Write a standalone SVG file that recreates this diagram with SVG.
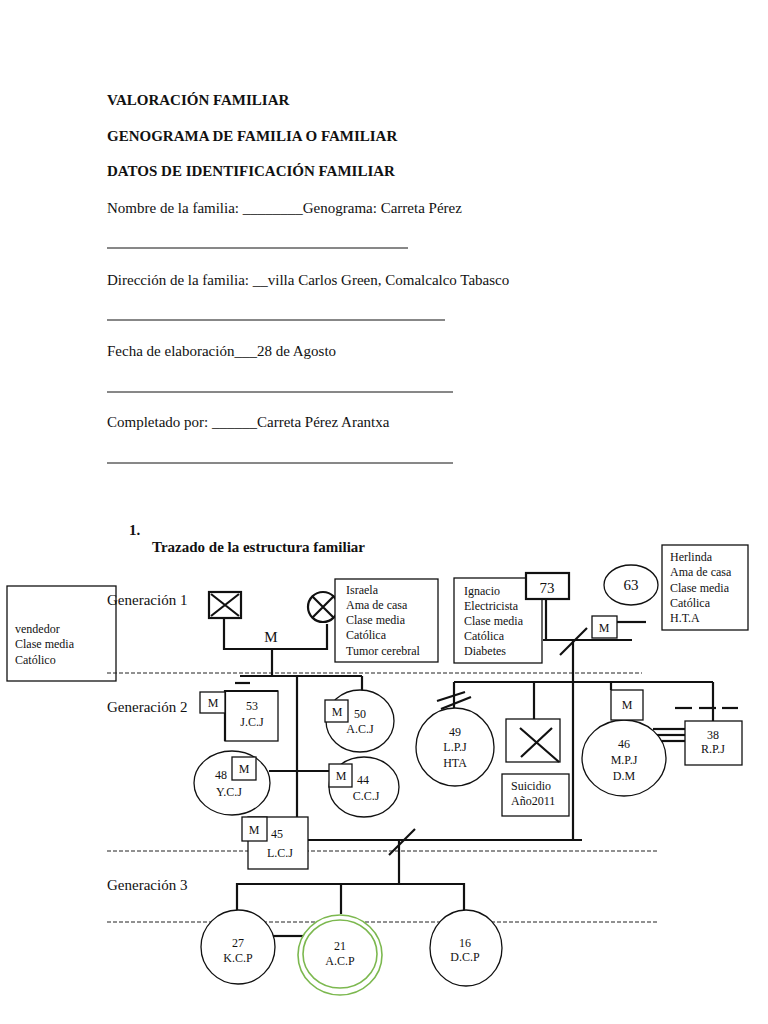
<svg xmlns="http://www.w3.org/2000/svg" width="768" height="1024" viewBox="0 0 768 1024">
<style>
text{font-family:"Liberation Serif","Times New Roman",serif;fill:#111}
.h{font-size:15px;font-weight:bold}
.t{font-size:15px}
.s{font-size:12px}
.c{text-anchor:middle}
.n{fill:#fff;stroke:#111;stroke-width:1.3}
.k{fill:#fff;stroke:#111;stroke-width:2.2}
.ln{stroke:#111;stroke-width:2.2;fill:none}
.ul{stroke:#111;stroke-width:1}
.dash{stroke:#222;stroke-width:1;stroke-dasharray:4,2}
</style>
<rect width="768" height="1024" fill="#fff"/>
<g id="vendedor">
<rect x="7" y="586" width="109" height="95" fill="none" stroke="#111" stroke-width="1.3"/>
<text class="s" x="15" y="633">vendedor</text>
<text class="s" x="15" y="648">Clase media</text>
<text class="s" x="15" y="664">Católico</text>
</g>
<g id="header">
<text class="h" x="107" y="105">VALORACIÓN FAMILIAR</text>
<text class="h" x="107" y="141">GENOGRAMA DE FAMILIA O FAMILIAR</text>
<text class="h" x="107" y="176">DATOS DE IDENTIFICACIÓN FAMILIAR</text>
<text class="t" x="107" y="213">Nombre de la familia: ________Genograma: Carreta Pérez</text>
<line class="ul" x1="107" y1="248" x2="408" y2="248"/>
<text class="t" x="107" y="285">Dirección de la familia: __villa Carlos Green, Comalcalco Tabasco</text>
<line class="ul" x1="107" y1="320" x2="445" y2="320"/>
<text class="t" x="107" y="356">Fecha de elaboración___28 de Agosto</text>
<line class="ul" x1="107" y1="392" x2="453" y2="392"/>
<text class="t" x="107" y="427">Completado por: ______Carreta Pérez Arantxa</text>
<line class="ul" x1="107" y1="463" x2="453" y2="463"/>
<text class="h" x="129" y="535">1.</text>
<text class="h" x="152" y="552">Trazado de la estructura familiar</text>
<text class="t" x="107" y="605">Generación 1</text>
<text class="t" x="107" y="712">Generación 2</text>
<text class="t" x="107" y="890">Generación 3</text>
<line class="dash" x1="107" y1="673" x2="642" y2="673"/>
<line class="dash" x1="107" y1="851" x2="657" y2="851"/>
<line class="dash" x1="107" y1="922" x2="657" y2="922"/>
</g>
<g id="connectors">
<polyline class="ln" points="224,618 224,649 327,649 327,624"/>
<line class="ln" x1="272" y1="649" x2="272" y2="676"/>
<line class="ln" x1="240" y1="676" x2="362" y2="676"/>
<line class="ln" x1="235" y1="683" x2="250" y2="683"/>
<line class="ln" x1="297" y1="676" x2="297" y2="817"/>
<line class="ln" x1="362" y1="676" x2="362" y2="691"/>
<line class="ln" x1="269" y1="771" x2="330" y2="771"/>
<line class="ln" x1="308" y1="840" x2="582" y2="840"/>
<line class="ln" x1="389" y1="855" x2="415" y2="829"/>
<line class="ln" x1="399" y1="840" x2="399" y2="884"/>
<polyline class="ln" points="237,912 237,884 464,884 464,910"/>
<line class="ln" x1="341" y1="884" x2="341" y2="914"/>
<line class="ln" x1="271" y1="936" x2="303" y2="936"/>
<line class="ln" x1="546" y1="599" x2="546" y2="640"/>
<line class="ln" x1="543" y1="640" x2="632" y2="640"/>
<line class="ln" x1="560" y1="655" x2="587" y2="628"/>
<line class="ln" x1="573" y1="640" x2="573" y2="840"/>
<line class="ln" x1="617" y1="622" x2="646" y2="622"/>
<line class="ln" x1="454" y1="682" x2="713" y2="682"/>
<line class="ln" x1="454" y1="682" x2="454" y2="708"/>
<line class="ln" x1="437" y1="701" x2="465" y2="692"/>
<line class="ln" x1="441" y1="709" x2="471" y2="697"/>
<line class="ln" x1="534" y1="682" x2="534" y2="719"/>
<line class="ln" x1="611" y1="682" x2="611" y2="690"/>
<line class="ln" x1="713" y1="682" x2="713" y2="721"/>
<line class="ln" x1="675" y1="708" x2="692" y2="708"/>
<line class="ln" x1="699" y1="708" x2="716" y2="708"/>
<line class="ln" x1="722" y1="708" x2="738" y2="708"/>
<line class="ln" x1="653" y1="729" x2="685" y2="729"/>
<line class="ln" x1="655" y1="735" x2="685" y2="735"/>
<line class="ln" x1="660" y1="741" x2="685" y2="741"/>
</g>
<g id="abuelo">
<rect class="k" x="209" y="592" width="32" height="26"/>
<path class="ln" d="M211,594 L239,616 M239,594 L211,616"/>
</g>
<g id="israela">
<circle class="k" cx="323" cy="607" r="15"/>
<path class="ln" d="M312,596 L334,618 M334,596 L312,618"/>
<text class="t c" x="271" y="642">M</text>
<rect class="n" x="335" y="579" width="103" height="83"/>
<text class="s" x="346" y="594">Israela</text>
<text class="s" x="346" y="609">Ama de casa</text>
<text class="s" x="346" y="624">Clase media</text>
<text class="s" x="346" y="639">Católica</text>
<text class="s" x="346" y="655">Tumor cerebral</text>
</g>
<g id="ignacio">
<rect class="n" x="454" y="578" width="88" height="85"/>
<text class="s" x="464" y="595">Ignacio</text>
<text class="s" x="464" y="610">Electricista</text>
<text class="s" x="464" y="625">Clase media</text>
<text class="s" x="464" y="640">Católica</text>
<text class="s" x="464" y="655">Diabetes</text>
<rect class="k" x="526" y="573" width="43" height="26"/>
<text class="t c" x="547" y="593">73</text>
</g>
<g id="herlinda">
<ellipse class="n" cx="631" cy="585" rx="27" ry="20"/>
<text class="t c" x="631" y="590">63</text>
<rect class="n" x="592" y="616" width="25" height="22"/>
<text class="s c" x="604" y="632">M</text>
<rect class="n" x="662" y="545" width="86" height="85"/>
<text class="s" x="670" y="561">Herlinda</text>
<text class="s" x="670" y="576">Ama de casa</text>
<text class="s" x="670" y="592">Clase media</text>
<text class="s" x="670" y="607">Católica</text>
<text class="s" x="670" y="622">H.T.A</text>
</g>
<g id="jcj">
<rect class="n" x="225" y="691" width="53" height="50"/>
<path class="ln" d="M225,741 L225,691 L278,691"/>
<rect class="n" x="200" y="692" width="25" height="21"/>
<text class="s c" x="213" y="707">M</text>
<text class="s c" x="252" y="710">53</text>
<text class="s c" x="252" y="726">J.C.J</text>
</g>
<g id="acj">
<ellipse class="n" cx="360" cy="721" rx="34" ry="31"/>
<rect class="n" x="325" y="700" width="23" height="22"/>
<text class="s c" x="337" y="716">M</text>
<text class="s" x="354" y="718">50</text>
<text class="s c" x="360" y="733">A.C.J</text>
</g>
<g id="ycj">
<ellipse class="n" cx="232" cy="783" rx="38" ry="32"/>
<rect class="n" x="232" y="757" width="24" height="23"/>
<text class="s c" x="244" y="773">M</text>
<text class="s c" x="221" y="779">48</text>
<text class="s c" x="229" y="796">Y.C.J</text>
</g>
<g id="ccj">
<ellipse class="n" cx="364" cy="787" rx="35" ry="30"/>
<rect class="n" x="329" y="764" width="23" height="23"/>
<text class="s c" x="341" y="780">M</text>
<text class="s" x="357" y="784">44</text>
<text class="s c" x="366" y="800">C.C.J</text>
</g>
<g id="lcj">
<rect class="n" x="248" y="817" width="60" height="52"/>
<rect class="n" x="242" y="817" width="25" height="24"/>
<text class="s c" x="254" y="834">M</text>
<text class="s" x="271" y="838">45</text>
<text class="s c" x="280" y="857">L.C.J</text>
</g>
<g id="lpj">
<circle class="n" cx="455" cy="747" r="39"/>
<text class="s c" x="455" y="736">49</text>
<text class="s c" x="455" y="751">L.P.J</text>
<text class="s c" x="455" y="767">HTA</text>
</g>
<g id="suicidio">
<rect class="n" x="506" y="719" width="54" height="43"/>
<path class="ln" d="M520,728 L559,762 M552,728 L521,757"/>
<rect class="n" x="502" y="774" width="67" height="42"/>
<text class="s" x="511" y="790">Suicidio</text>
<text class="s" x="511" y="805">Año2011</text>
</g>
<g id="mpj">
<ellipse class="n" cx="624" cy="758" rx="42" ry="38"/>
<rect class="n" x="611" y="690" width="32" height="30"/>
<text class="s c" x="627" y="709">M</text>
<text class="s c" x="624" y="748">46</text>
<text class="s c" x="624" y="764">M.P.J</text>
<text class="s c" x="624" y="780">D.M</text>
</g>
<g id="rpj">
<rect class="n" x="685" y="721" width="57" height="44"/>
<text class="s c" x="713" y="739">38</text>
<text class="s c" x="713" y="753">R.P.J</text>
</g>
<g id="kcp">
<circle class="n" cx="238" cy="947" r="37"/>
<text class="s c" x="238" y="947">27</text>
<text class="s c" x="238" y="962">K.C.P</text>
</g>
<g id="acp">
<ellipse cx="340" cy="955" rx="42" ry="40" fill="#fff" stroke="#7cb84f" stroke-width="1.6"/>
<ellipse cx="340" cy="954" rx="37" ry="34" fill="none" stroke="#7cb84f" stroke-width="1.6"/>
<text class="s c" x="340" y="950">21</text>
<text class="s c" x="340" y="965">A.C.P</text>
</g>
<g id="dcp">
<ellipse class="n" cx="466" cy="948" rx="36" ry="38"/>
<text class="s c" x="465" y="947">16</text>
<text class="s c" x="465" y="961">D.C.P</text>
</g>
</svg>
